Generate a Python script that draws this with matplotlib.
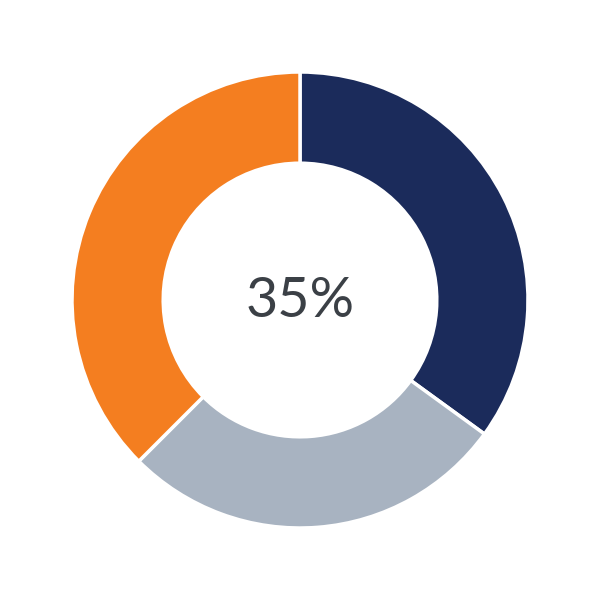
import matplotlib.pyplot as plt

labels = ["Navy", "Grey", "Orange"]
values = [35, 27.5, 37.5]
colors = ["#1b2b5b", "#a8b3c1", "#f47e20"]
center_label = "35%"

fig = plt.figure(figsize=(6, 6), dpi=100)
ax = fig.add_axes([0, 0, 1, 1])

ax.pie(
    values,
    colors=colors,
    startangle=90,
    counterclock=False,
    radius=1.0,
    wedgeprops=dict(width=0.4, edgecolor="white", linewidth=2.5),
)

ax.text(0, -0.005, center_label, ha="center", va="center",
        fontsize=40, color="#3b4046", family=["Lato", "DejaVu Sans"],
        fontweight="normal")

lim = 300 / 228
ax.set_xlim(-lim, lim)
ax.set_ylim(-lim, lim)
ax.set_aspect("equal")
ax.axis("off")

fig.savefig("out.png", dpi=100, facecolor="white")
